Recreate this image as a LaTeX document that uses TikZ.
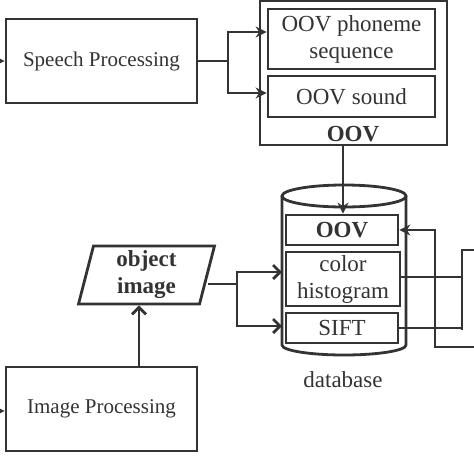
\documentclass[tikz,border=0pt]{standalone}
\usepackage{fontspec}
\setmainfont{Liberation Serif}
\usetikzlibrary{arrows.meta}
\usetikzlibrary{shapes.geometric}
\usetikzlibrary{calc}
\definecolor{ink}{HTML}{333333}
\tikzset{
	% boxes: big processing boxes and small item boxes
	proc box/.style={rectangle,draw=ink,line width=2.8pt,inner sep=0,font=\fontsize{21}{25}\selectfont},
	item box/.style={rectangle,draw=ink,line width=2.8pt,inner sep=0,align=center,font=\fontsize{23}{27}\selectfont},
	plain text/.style={inner sep=0,align=center,text=ink,font=\fontsize{23}{27}\selectfont},
	% connectors: filled tips and open barbed tips
	link/.style={draw=ink,line width=2.8pt},
	fill arrow/.style={link,-{Stealth[length=11pt,width=11pt]}},
	barb arrow/.style={link,-{Straight Barb[length=7pt,width=14pt,line width=2.8pt]}}
}
\begin{document}
\begin{tikzpicture}[x=1pt,y=-1pt,text=ink]
\useasboundingbox (0,0) rectangle (474,474);

% processing boxes
\node(speech)[proc box,minimum width=191pt,minimum height=84pt] at (101.5,61) {\raisebox{-3pt}{Speech Processing}};
\node(image)[proc box,minimum width=191pt,minimum height=84pt] at (101.5,409) {\raisebox{-3pt}{Image Processing}};

% OOV group (top right)
\node(oov)[item box,minimum width=187pt,minimum height=144pt] at (353.5,73) {};
\node(phon)[item box,minimum width=167pt,minimum height=60pt] at (351.5,39) {OOV phoneme\\sequence};
\node(sound)[item box,minimum width=167pt,minimum height=41pt] at (351.5,96.5) {OOV sound};
\node(oovlabel)[plain text,font=\fontsize{23}{27}\selectfont\bfseries] at (353,134) {OOV};

% object image (parallelogram)
\node(objimg)[trapezium,trapezium left angle=80,trapezium right angle=100,trapezium stretches=true,
	draw=ink,line width=2.8pt,inner sep=0,minimum width=137pt,minimum height=58pt,align=center,
	font=\fontsize{23}{27}\selectfont\bfseries] at (146.5,275) {object\\image};

% database cylinder
\draw[ink,line width=2.8pt] (282,196) -- (282,345) arc[start angle=180,end angle=0,x radius=62,y radius=10] -- (406,196);
\draw[ink,line width=2.8pt] (344,196) ellipse [x radius=62,y radius=11];
\node(dboov)[item box,minimum width=112pt,minimum height=30pt,font=\fontsize{23}{27}\selectfont\bfseries] at (342,230) {OOV};
\node(hist)[item box,minimum width=114pt,minimum height=54pt] at (343,279) {color\\histogram};
\node(sift)[item box,minimum width=112pt,minimum height=30pt] at (342,328) {SIFT};
\node(dblabel)[plain text] at (343,380) {database};

% named points for connectors
\coordinate(inspeech) at (0,61);
\coordinate(inimage) at (0,411);
\coordinate(split1) at (228,61);
\coordinate(split2) at (237,284);
\coordinate(dbin1) at (282,272);
\coordinate(dbin2) at (282,326);
\coordinate(outtop) at (474,250);
\coordinate(outcorner) at (462,250);
\coordinate(outlow) at (474,347);
\coordinate(backturn) at (435,347);

% inputs coming from the left edge
\draw[fill arrow] (inspeech) -- (speech.west);
\draw[fill arrow] (inimage) -- (image.west |- inimage);

% speech processing to the OOV items
\draw[link] (speech.east) -- (split1);
\draw[fill arrow] (split1) |- ($(phon.west)+(0,-7)$);
\draw[fill arrow] (split1) |- ($(sound.west)+(0,-3.5)$);

% OOV into the database
\draw[fill arrow] (oov.south -| 343,0) -- (dboov.north -| 343,0);

% image processing to object image, then into the database
\draw[barb arrow] (image.north -| 139,0) -- (objimg.south -| 139,0);
\draw[link] (objimg.east |- split2) -- (split2);
\draw[barb arrow] (split2) |- (dbin1);
\draw[barb arrow] (split2) |- (dbin2);

% right side: outputs and feedback
\draw[link] (hist.east |- 0,277) -- (462,277);
\draw[link] (sift.east) -- (462,328);
\draw[link] (outtop) -- (outcorner) -- (462,330);
\draw[fill arrow] (outlow) -- (backturn) |- (dboov.east);

\end{tikzpicture}
\end{document}
